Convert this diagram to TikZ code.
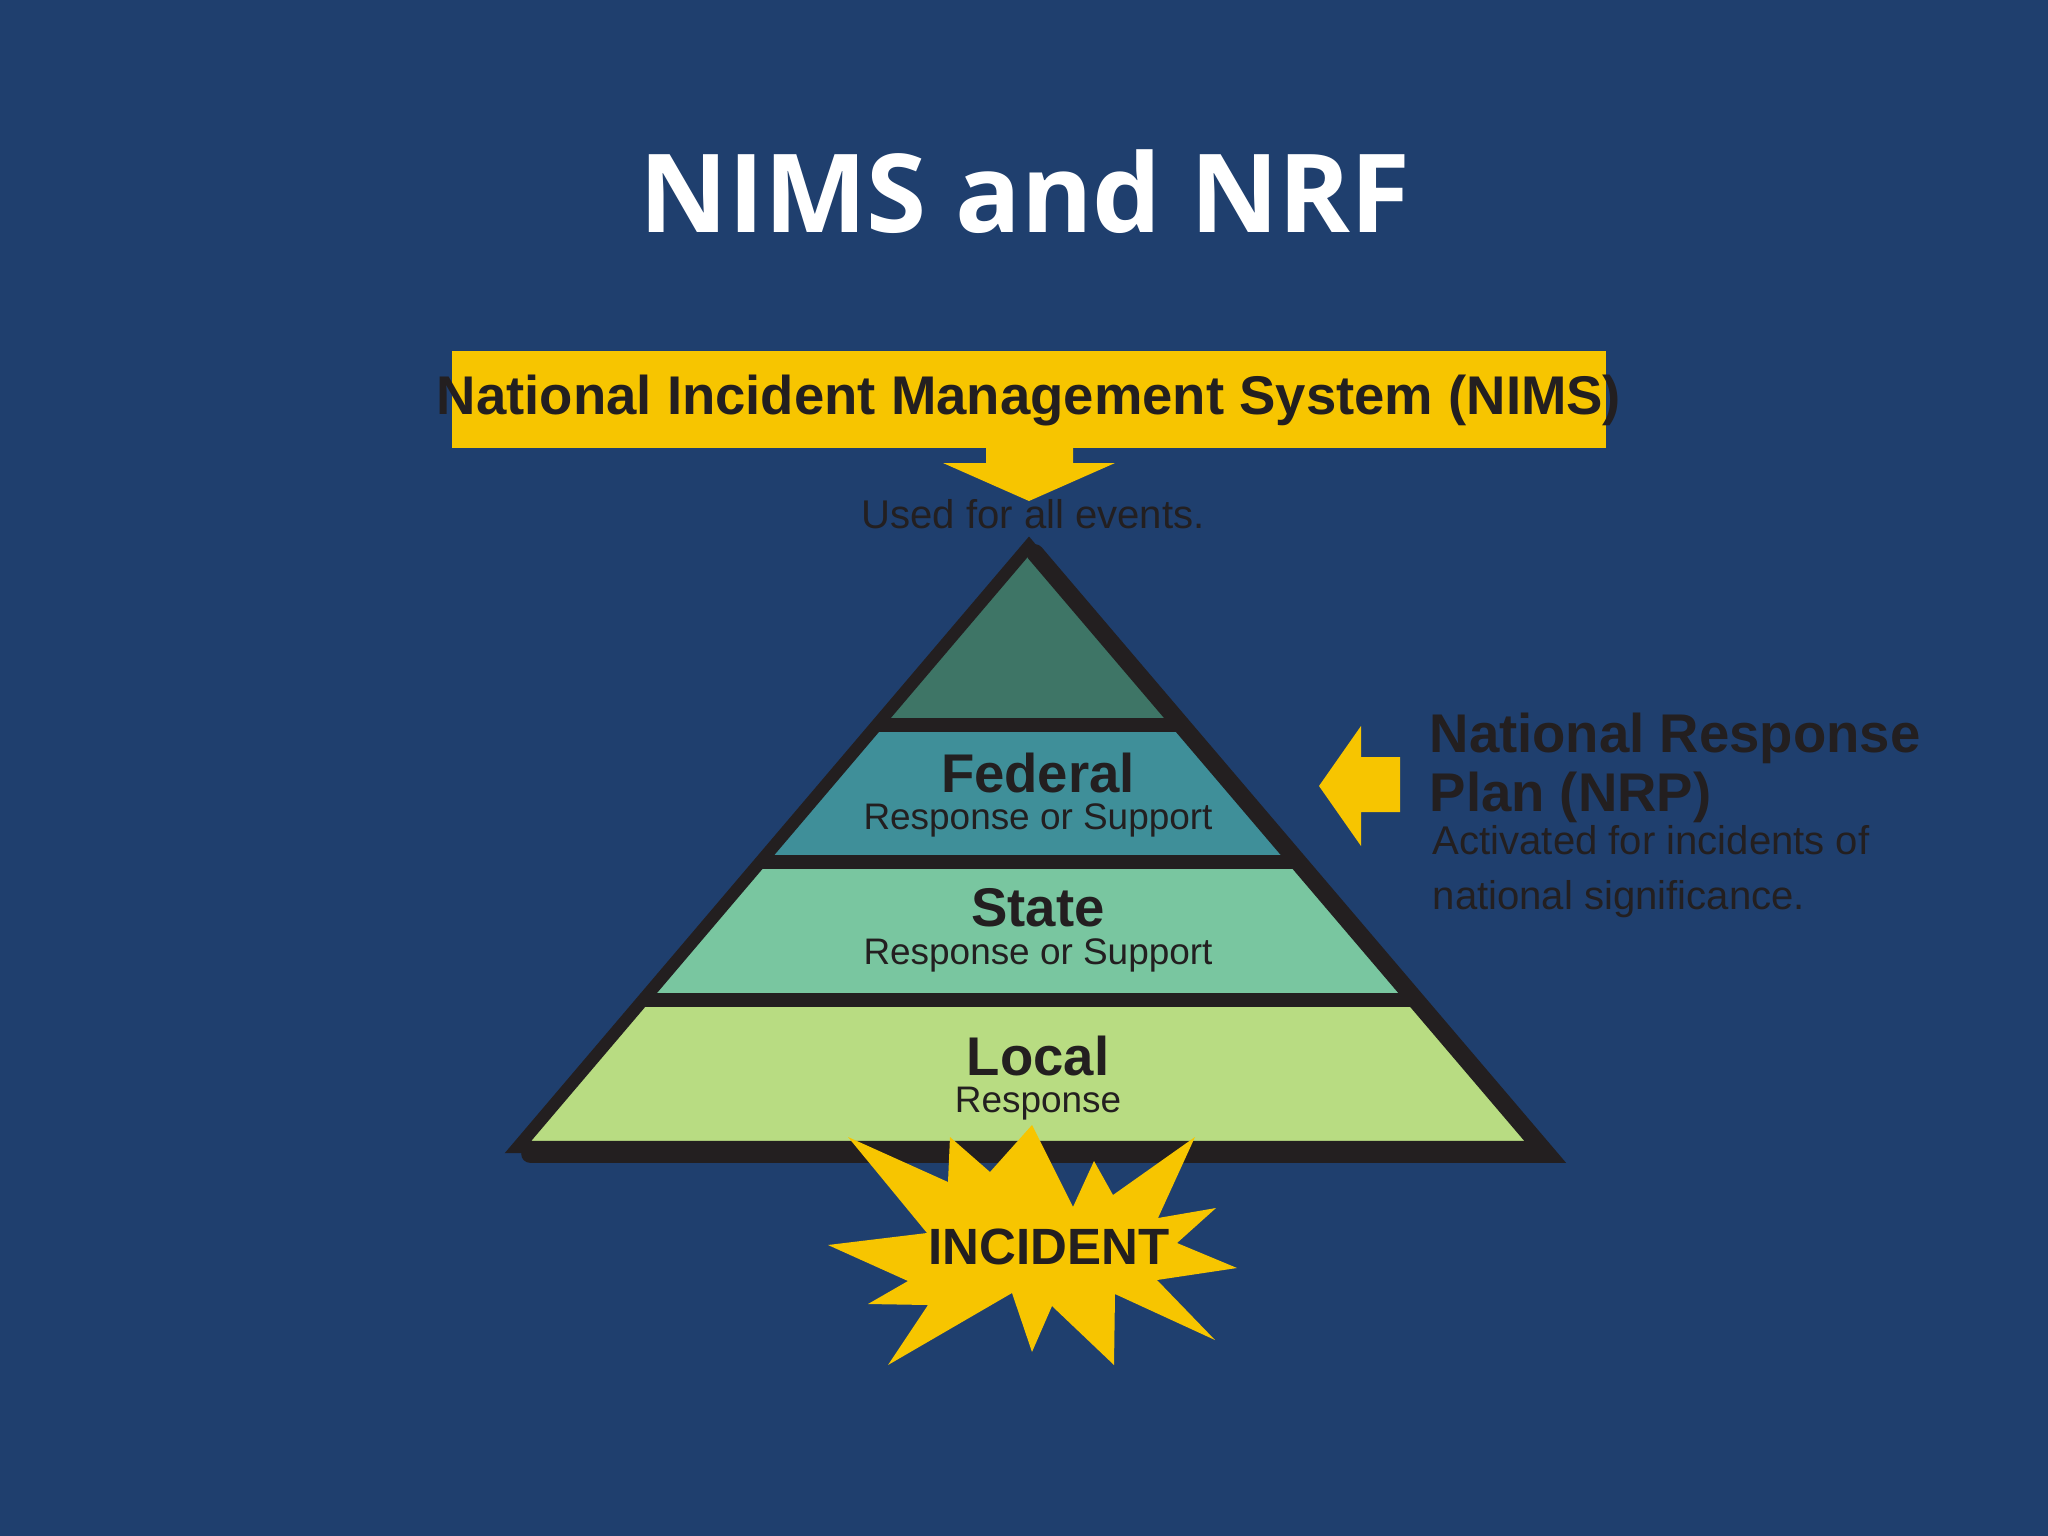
\documentclass[tikz,border=0pt]{standalone}
\usepackage{fontspec}
\setmainfont{Liberation Sans}
\newfontfamily\titlefont{Open Sans}
\definecolor{bg}{HTML}{1F3F6E}
\definecolor{ylw}{HTML}{F7C500}
\definecolor{ink}{HTML}{231F20}
\definecolor{topc}{HTML}{3E7566}
\definecolor{fedc}{HTML}{3F8F99}
\definecolor{statec}{HTML}{79C6A0}
\definecolor{localc}{HTML}{B8DC82}
\tikzset{
  head/.style={font=\fontsize{15.5}{18}\selectfont\bfseries, text=ink, inner sep=0pt},
  sub/.style={font=\fontsize{10.5}{12}\selectfont, text=ink, inner sep=0pt},
}
\begin{document}
\begin{tikzpicture}[x=0.01cm,y=-0.01cm]
\fill[bg] (0,0) rectangle (2048,1536);
\useasboundingbox (0,0) rectangle (2048,1536);
\node[font=\titlefont\fontsize{31}{36}\selectfont\bfseries, text=white] (title) at (1025,192) {NIMS and NRF};
% NIMS box and arrow
\fill[ylw] (452,351) rectangle (1606,448);
\node[font=\fontsize{15.5}{18}\selectfont\bfseries, text=ink] (nims) at (1029,401) {National Incident Management System (NIMS)};
\fill[ylw] (986,448) -- (1073,448) -- (1073,463) -- (1115,463) -- (1029,501) -- (943,463) -- (986,463) -- cycle;
\node[font=\fontsize{11.4}{13}\selectfont, text=ink] (used) at (1033,514) {Used for all events.};
% pyramid
\coordinate (apex) at (1029,546);
\coordinate (bl) at (518,1147);
\coordinate (br) at (1540,1147);
\begin{scope}
\clip (apex) -- (br) -- (bl) -- cycle;
\fill[topc] (400,500) rectangle (1700,725);
\fill[fedc] (400,725) rectangle (1700,862);
\fill[statec] (400,862) rectangle (1700,1000);
\fill[localc] (400,1000) rectangle (1700,1160);
\end{scope}
\draw[ink, line width=4pt] (877,725) -- (1181,725);
\draw[ink, line width=4pt] (760,862) -- (1298,862);
\draw[ink, line width=4pt] (643,1000) -- (1415,1000);
\draw[ink, line width=5pt, line cap=round] (1035,553) -- (1547,1154) -- (530,1154);
\draw[ink, line width=3.5pt, line join=miter] (apex) -- (br) -- (bl) -- cycle;
\node[head] (fed) at (1038,773) {Federal};
\node[sub] (fedsub) at (1038,820) {Response or Support};
\node[head] (state) at (1038,908) {State};
\node[sub] (statesub) at (1038,955) {Response or Support};
\node[head] (local) at (1038,1056) {Local};
\node[sub] (localsub) at (1038,1104) {Response};
% NRP arrow
\fill[ylw] (1319,786) -- (1361,726) -- (1361,757) -- (1400,757) -- (1400,812) -- (1361,812) -- (1361,846) -- cycle;
\node[anchor=north west, align=left, font=\fontsize{15.5}{17}\selectfont\bfseries, text=ink, inner sep=0pt] (nrp) at (1429,712) {National Response\\Plan (NRP)};
\node[anchor=north west, align=left, font=\fontsize{11.4}{15.5}\selectfont, text=ink, inner sep=0pt] (nrpsub) at (1432,825) {Activated for incidents of\\national significance.};
% starburst
\fill[ylw] (848,1137) -- (948,1182) -- (950,1137) -- (990,1172) -- (1032,1125) -- (1073,1207) -- (1094,1161) -- (1113,1195) -- (1195,1137) -- (1158,1218) -- (1216,1208) -- (1177,1243) -- (1237,1268) -- (1157,1280) -- (1215,1340) -- (1115,1294) -- (1114,1365) -- (1052,1306) -- (1032,1352) -- (1012,1293) -- (888,1365) -- (928,1305) -- (868,1304) -- (908,1281) -- (828,1245) -- (927,1233) -- cycle;
\node[font=\fontsize{14.5}{17}\selectfont\bfseries, text=ink] (inc) at (1049,1247) {INCIDENT};
\end{tikzpicture}
\end{document}
